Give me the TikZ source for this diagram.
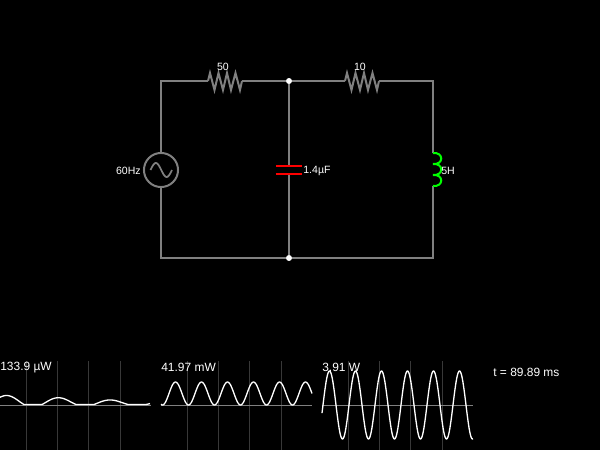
\documentclass[tikz,border=0pt]{standalone}
\usepackage{fontspec}
\setmainfont{Liberation Sans}
\definecolor{wiregray}{gray}{0.5}
\definecolor{griddark}{gray}{0.22}
\definecolor{coilgreen}{RGB}{0,255,0}
\tikzset{
  wire/.style={wiregray,line width=1.14pt},
  lbl/.style={white,inner sep=0pt,font=\fontsize{6}{7}\selectfont},
  scopelbl/.style={white,inner sep=0pt,anchor=west,font=\fontsize{6.8}{8}\selectfont},
  junction/.style={circle,fill=white,inner sep=0pt,minimum size=3.4pt},
  plate/.style={red,line width=1.14pt},
  coil/.style={coilgreen,line width=1.14pt},
  trace/.style={white,line width=0.75pt,line join=round},
  scopegrid/.style={griddark,line width=0.57pt},
  scopebase/.style={wiregray,line width=0.57pt},
  resistor/.pic={
    \draw[wire,line join=miter] (0,0)--(2,-8)--(6.5,9)--(10.5,-8)--(15,9)--(19,-8)--(23,9)--(27.5,-8)--(32,9)--(34,0);
  }
}
\begin{document}
\begin{tikzpicture}[x=0.02cm,y=-0.02cm]
\fill[black] (0,0) rectangle (600,450);
\useasboundingbox (0,0) rectangle (600,450);

% corners and component ends
\coordinate (tl) at (161,81);
\coordinate (tr) at (433,81);
\coordinate (bl) at (161,258);
\coordinate (br) at (433,258);
\coordinate (ra1) at (208,81);
\coordinate (ra2) at (242,81);
\coordinate (rb1) at (345,81);
\coordinate (rb2) at (379,81);
\coordinate (capa) at (289,166);
\coordinate (capb) at (289,174);
\coordinate (inda) at (433,153);
\coordinate (indb) at (433,186);
\node[junction] (jt) at (289,81) {};
\node[junction] (jb) at (289,258) {};
\node[circle,draw=wiregray,line width=1.14pt,minimum size=19.4pt,inner sep=0pt] (src) at (161,170) {};

% wires
\draw[wire] (src)--(tl)--(ra1);
\draw[wire] (ra2)--(jt)--(rb1);
\draw[wire] (rb2)--(tr)--(inda);
\draw[wire] (indb)--(br)--(jb)--(bl)--(src);
\draw[wire] (jt)--(capa);
\draw[wire] (capb)--(jb);

% components
\pic at (ra1) {resistor};
\pic at (rb1) {resistor};
\draw[wire,line width=1pt] plot[smooth,samples=30,domain=150.5:172] (\x,{170-7*sin(16.74*(\x-150.5))});
\draw[plate] (276,166)--(302,166);
\draw[plate] (276,174)--(302,174);
\draw[coil] (inda) .. controls (444,152) and (444,165) .. (433,164) .. controls (444,163) and (444,176) .. (433,175) .. controls (444,174) and (444,187) .. (indb);

\node[lbl] (lra) at (223,67) {50};
\node[lbl] (lrb) at (360,67) {10};
\node[lbl,anchor=east] (lsrc) at (141,170.5) {60Hz};
\node[lbl,anchor=west] (lcap) at (303,171) {1.4µF};
\node[lbl,anchor=west] (lind) at (441,171) {5H};

% scopes
\foreach \gx in {26.5,57.5,88.5,120.5,187.5,218.5,249.5,281.5,348.5,379.5,410.5,442.5}
  \draw[scopegrid] (\gx,361)--(\gx,450);
\draw[scopebase] (0,405.5)--(151,405.5);
\draw[scopebase] (161,405.5)--(312,405.5);
\draw[scopebase] (322,405.5)--(473,405.5);

\draw[trace] plot[samples=152,domain=0:150] (\x,{404.5-(9.3-0.043*\x)*max(0,cos(6.923*(\x-7))+0.45)/1.45});
\draw[trace] plot[samples=152,domain=161:312] (\x,{405-23*cos(6.923*(\x-175.5))*cos(6.923*(\x-175.5))});
\draw[trace] plot[samples=300,domain=322:473] (\x,{405-34*cos(13.846*(\x-329.5))});

\node[scopelbl] (pwr1) at (0,367.5) {133.9 µW};
\node[scopelbl] (pwr2) at (161,367.5) {41.97 mW};
\node[scopelbl] (pwr3) at (322,367.5) {3.91 W};
\node[scopelbl] (time) at (493,372) {t = 89.89 ms};
\end{tikzpicture}
\end{document}
